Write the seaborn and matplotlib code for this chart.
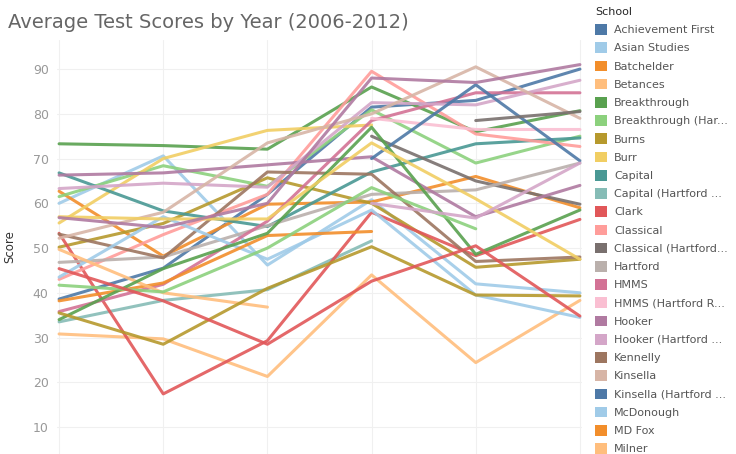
import numpy as np, pandas as pd, matplotlib
matplotlib.use("Agg")
import matplotlib.pyplot as plt
import seaborn as sns
from matplotlib.patches import Patch

years = [2007, 2008, 2009, 2010, 2011, 2012]
N = np.nan
legend_schools = ["Achievement First","Asian Studies","Batchelder","Betances","Breakthrough",
    "Breakthrough (Har...","Burns","Burr","Capital","Capital (Hartford ...","Clark","Classical",
    "Classical (Hartford...","Hartford","HMMS","HMMS (Hartford R...","Hooker","Hooker (Hartford ...",
    "Kennelly","Kinsella","Kinsella (Hartford ...","McDonough","MD Fox","Milner"]
tab20 = ["#4E79A7","#A0CBE8","#F28E2B","#FFBE7D","#59A14F","#8CD17D","#B6992D","#F1CE63",
         "#499894","#86BCB6","#E15759","#FF9D9A","#79706E","#BAB0AC","#D37295","#FABFD2",
         "#B07AA1","#D4A6C8","#9D7660","#D7B5A6"]
extra_colors = {"School 25": "#59A14F", "School 26": "#8CD17D", "School 27": "#B6992D",
                "School 28": "#F1CE63", "School 29": "#79706E", "School 30": "#E15759",
                "School 31": "#D4A6C8", "School 32": "#B07AA1"}

scores = {
 "Achievement First":      [38.6, 45.5, 62.0, 81.5, 83.0, 90.0],
 "Asian Studies":          [60.0, 70.6, 46.2, 60.8, 42.0, 40.0],
 "Batchelder":             [62.7, 48.2, 59.8, 60.3, 66.0, 59.0],
 "Betances":               [30.8, 29.7, 21.3, 44.0, 24.4, 38.3],
 "Breakthrough":           [73.3, 72.9, 72.1, 86.0, 76.0, 80.7],
 "Breakthrough (Har...":   [61.5, 68.4, 63.8, 80.9, 69.0, 75.0],
 "Burns":                  [50.2, 55.5, 65.7, 60.0, 45.7, 47.5],
 "Burr":                   [55.6, 70.0, 76.3, 77.5, N, N],
 "Capital":                [66.8, 58.3, 54.8, 67.0, 73.3, 74.6],
 "Capital (Hartford ...":  [33.5, 38.3, 40.7, 51.6, N, N],
 "Clark":                  [53.3, 17.4, 29.3, 58.0, 48.3, 56.4],
 "Classical":              [43.0, 53.0, 62.0, 89.5, 75.5, 72.7],
 "Classical (Hartford...": [N, N, N, 75.0, 65.0, 59.8],
 "Hartford":               [46.8, 48.0, 55.0, 62.0, 63.0, 69.0],
 "HMMS":                   [35.8, 41.9, 56.0, 78.5, 84.7, 84.7],
 "HMMS (Hartford R...":    [N, N, N, 79.0, 76.5, 76.5],
 "Hooker":                 [66.3, 66.8, 68.6, 70.4, 57.0, 64.0],
 "Hooker (Hartford ...":   [63.3, 64.5, 63.6, 82.5, 82.0, 87.5],
 "Kennelly":               [53.1, 47.8, 67.0, 66.5, 47.0, 48.0],
 "Kinsella":               [52.2, 58.0, 73.5, 80.0, 90.5, 79.0],
 "Kinsella (Hartford ...": [N, N, N, 70.0, 86.5, 69.5],
 "McDonough":              [43.5, 57.0, 47.5, 58.5, 39.5, 34.5],
 "MD Fox":                 [38.2, 42.2, 52.8, 53.7, N, N],
 "Milner":                 [49.7, 40.0, 36.8, N, N, N],
 "School 25":              [34.0, 45.4, 53.3, 77.0, 48.6, 58.5],
 "School 26":              [41.7, 40.2, 50.0, 63.5, 54.3, N],
 "School 27":              [35.5, 28.5, 41.0, 50.3, 39.5, 39.3],
 "School 28":              [57.0, 56.5, 56.5, 73.5, 61.0, 47.5],
 "School 29":              [N, N, N, N, 78.5, 80.5],
 "School 30":              [45.4, 38.2, 28.5, 42.6, 50.5, 34.8],
 "School 31":              [N, N, N, 60.0, 56.7, 69.0],
 "School 32":              [56.8, 54.6, 60.0, 88.0, 87.0, 91.0],
}
names = list(scores)
palette = {n: extra_colors.get(n, tab20[i % 20]) for i, n in enumerate(names)}

rows = [(n, y, v) for n in names for y, v in zip(years, scores[n]) if not np.isnan(v)]
df = pd.DataFrame(rows, columns=["School", "Year", "Score"])

sns.set_style("white")
plt.rcParams['font.family'] = ['DejaVu Sans']
fig = plt.figure(figsize=(7.36, 4.54), dpi=100)
ax = fig.add_axes([57/736, 0, (582-57)/736, (454-40)/454])
sns.lineplot(data=df, x="Year", y="Score", hue="School", palette=palette, hue_order=names,
             linewidth=2.2, alpha=0.9, legend=False, ax=ax, estimator=None)
ax.set_xlim(2007 - 0.02, 2012.02)
ax.set_ylim(3.97, 96.5)
ax.set_yticks(range(10, 100, 10))
ax.set_xticks(years)
ax.set_xticklabels([])
ax.tick_params(axis='x', length=0)
ax.tick_params(axis='y', length=0, labelsize=9, labelcolor="#999999", pad=6)
ax.grid(True, color="#f0f0f0", linewidth=0.8)
ax.set_axisbelow(True)
for s in ax.spines.values():
    s.set_visible(False)
ax.set_xlabel("")
ax.set_ylabel("Score", fontsize=8.5, color="#333333", labelpad=12)
fig.text(8/736, 1 - 22/454, "Average Test Scores by Year (2006-2012)", fontsize=14,
         color="#666666", va="center")
handles = [Patch(facecolor=palette[n], edgecolor="none") for n in legend_schools]
fig.legend(handles, legend_schools, loc="upper left", bbox_to_anchor=(585/736, 1 + 3/454),
           frameon=False, title="School", alignment="left", fontsize=8, title_fontsize=8,
           handlelength=1.1, handleheight=1.1, handletextpad=0.6, labelspacing=0.64,
           labelcolor="#555555")
fig.savefig("out.png", dpi=100)
